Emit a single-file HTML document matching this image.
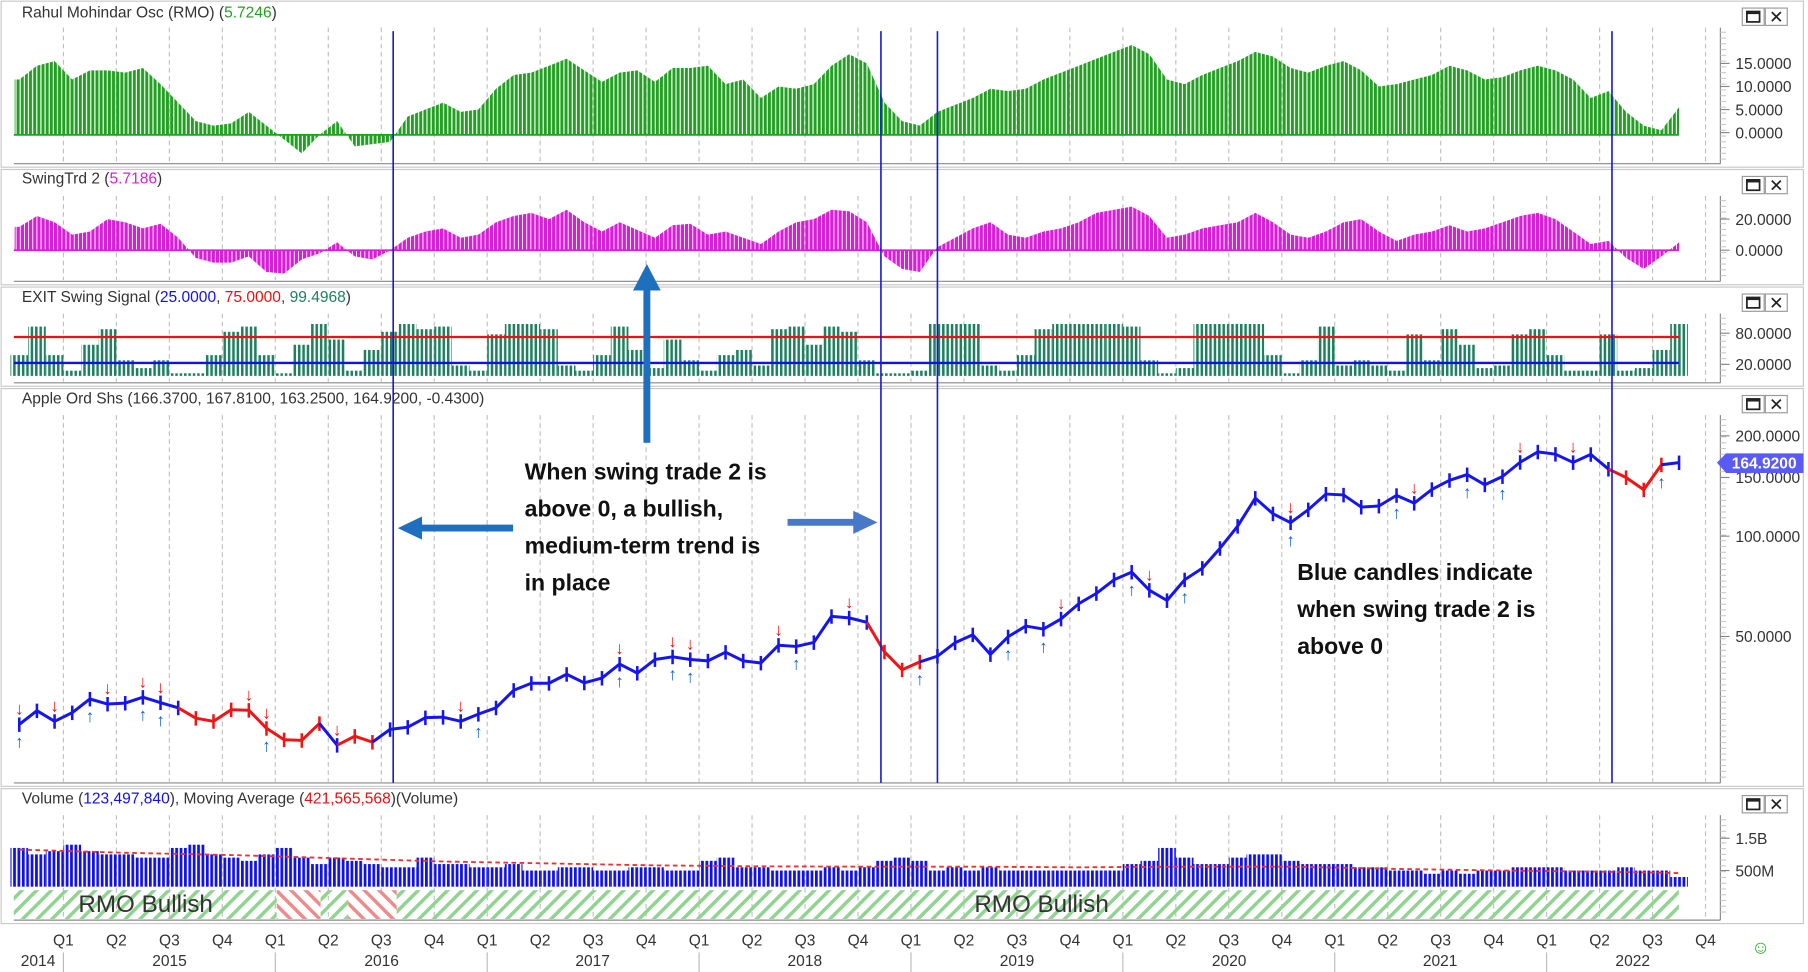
<!DOCTYPE html>
<html><head><meta charset="utf-8"><style>
html,body{margin:0;padding:0;background:#fff;}
svg{display:block;font-family:"Liberation Sans",sans-serif;}
</style></head><body>
<svg id="chart" width="1808" height="972" viewBox="0 0 1568 843" preserveAspectRatio="none" xmlns="http://www.w3.org/2000/svg">
<defs>
<pattern id="stripeG" width="3.6" height="10" patternUnits="userSpaceOnUse"><rect width="2.6" height="10" fill="#22a022"/></pattern>
<pattern id="stripeM" width="3.6" height="10" patternUnits="userSpaceOnUse"><rect width="2.8" height="10" fill="#d81ed8"/></pattern>
<pattern id="stripeT" width="3.8" height="10" patternUnits="userSpaceOnUse"><rect width="2.2" height="10" fill="#1e8060"/></pattern>
<pattern id="stripeB" width="3.8" height="10" patternUnits="userSpaceOnUse"><rect width="2.4" height="10" fill="#1010ee"/></pattern>
<pattern id="hatchG" width="9" height="9" patternUnits="userSpaceOnUse" patternTransform="rotate(45)"><rect width="3" height="9" fill="#8fd48f"/></pattern>
<pattern id="hatchR" width="9" height="9" patternUnits="userSpaceOnUse" patternTransform="rotate(-45)"><rect width="3" height="9" fill="#f08a8a"/></pattern>
</defs>
<g id="static"></g>
<g id="marks"></g>
</svg>
<script>
// ---- data (monthly, Oct 2014 .. Aug 2022) ----
const rmoValues = [12,15,16,12,14,14,13.5,14.5,11,7,3,2,2.5,5,2,-1,-4,0,3,-2.5,-2,-1.5,4,5.5,7,5,5.5,10,13,13.5,15,16.5,14,11.5,13.5,14,11.5,14.5,14.5,15,11,12,8,10.5,10,11,15,17.5,15.5,7,3,2,5,6.5,8,10,9.5,10,12,13.5,15,16.5,18,19.5,17.5,12,11,13,14.5,16,18,17,14.5,13.5,15,16,14,10.5,11,12,13,15,14,12,12.5,14,15,14,12,8,9.5,5,2,1,6];
const swingValues = [15,22,18,10,12,20,18,14,17,8,-5,-8,-8,-4,-14,-15,-6,-2,5,-4,-6,0,8,12,14,8,10,18,22,24,20,26,18,12,18,13,8,16,17,10,12,8,4,12,18,20,26,25,18,-4,-12,-14,2,8,14,18,10,8,12,14,18,24,26,28,22,8,10,14,16,18,24,18,10,8,12,18,20,12,6,10,12,16,12,14,18,22,24,20,12,4,6,-5,-12,-4,5];
const exitValues = [40,95,40,10,60,90,30,15,30,5,5,40,85,95,40,5,60,100,70,10,50,85,100,90,95,20,10,80,100,100,90,20,10,40,95,50,15,70,30,10,40,50,20,90,95,60,95,85,30,5,5,10,100,100,100,20,10,40,90,100,100,100,100,95,30,5,15,100,100,100,100,40,5,30,95,20,30,20,10,80,30,90,60,15,20,80,90,40,10,10,80,10,15,50,100];
const closeValues = [27,29.7,27.6,29.3,32.2,31.1,31.3,32.6,31.4,30.3,28.2,27.6,29.9,29.8,26.3,24.3,24.2,27.2,23.4,24.9,23.9,26.1,26.5,28.3,28.4,27.6,29.0,30.3,34.2,35.9,35.9,38.2,36.0,37.2,41.0,38.5,42.3,43.1,42.3,41.9,44.5,41.9,41.3,46.7,46.3,47.6,57.0,56.4,54.7,44.6,39.4,41.6,43.3,47.5,50.2,43.8,49.5,53.3,52.2,56.0,62.2,66.8,73.4,77.4,68.3,63.6,73.4,79.5,91.2,106.3,129.0,115.8,108.9,119.1,132.7,131.9,121.3,122.2,131.5,124.6,137.0,145.9,151.8,141.5,149.8,165.3,177.6,174.8,165.1,174.6,157.7,148.8,136.7,162.5,164.92];
const volumeValues = [1.2,1.0,1.1,1.3,1.1,1.0,1.0,0.9,0.9,1.2,1.3,1.0,0.9,0.8,1.0,1.2,0.9,0.7,0.9,0.8,0.7,0.6,0.6,0.9,0.7,0.7,0.6,0.6,0.7,0.5,0.5,0.6,0.6,0.5,0.5,0.6,0.6,0.5,0.5,0.8,0.9,0.6,0.6,0.5,0.5,0.5,0.6,0.5,0.6,0.8,0.9,0.8,0.5,0.6,0.5,0.6,0.5,0.5,0.5,0.5,0.5,0.5,0.5,0.7,0.8,1.2,0.9,0.7,0.7,0.9,1.0,1.0,0.8,0.7,0.7,0.7,0.6,0.6,0.5,0.5,0.4,0.5,0.4,0.5,0.5,0.6,0.6,0.6,0.5,0.5,0.5,0.6,0.5,0.5,0.3];
const maMonths = [0,6,12,18,24,30,36,42,48,54,60,66,72,78,84,90,94];
const maValues = [1.15,1.05,0.98,0.88,0.78,0.72,0.66,0.63,0.62,0.62,0.60,0.62,0.62,0.55,0.5,0.46,0.42];
const downArrows = [0,2,5,7,8,13,14,18,25,34,37,38,43,47,59,64,72,79,85,88];
const upArrows = [0,4,7,8,14,26,34,37,38,44,51,56,58,63,66,72,78,82,84,93];
const rmoTicks = [15,10,5,0];
const swingTicks = [20,0];
const exitTicks = [80,20];
const priceTicks = [200,150,100,50];
const volTicks = [[1.5,'1.5B'],[0.5,'500M']];
const quarterLabels = ['Q1','Q2','Q3','Q4'];
const yearLabels = [['2014',33],['2015',147],['2016',331],['2017',514],['2018',698],['2019',882],['2020',1066],['2021',1249],['2022',1416]];

// ---- scales ----
const NS='http://www.w3.org/2000/svg';
const xm = m => 55 + 45.94*((m-2.5)/3);
const xq = i => 55 + 45.94*i;
const yRmo = v => 117 - 4*v;
const ySw = v => 217 - 1.35*v;
const yEx = v => 326 - 0.45*v;
const yPr = p => 464 - 289*Math.log10(p/100);
const yVol = v => 769 - 28*v;
const st = document.getElementById('static');
const mk = document.getElementById('marks');
function el(parent,tag,attrs,text){const e=document.createElementNS(NS,tag);for(const k in attrs)e.setAttribute(k,attrs[k]);if(text!==undefined)e.textContent=text;parent.appendChild(e);return e;}

const panels=[[0,144,11],[146,246,155],[248,334,258],[336,681,346],[683,800,693]];
panels.forEach((p,i)=>{
  const g=el(st,'g',{});
  
  
  el(g,'rect',{x:1,y:p[0]+1,width:1563,height:p[1]-p[0],fill:'#fff',stroke:'#c8c8c8'});
  for(let q=0;q<32;q++){el(g,'line',{x1:xq(q),x2:xq(q),y1:p[0]+24,y2:p[1]-3,stroke:'#c0c0c0','stroke-dasharray':'4,3'});}
  el(g,'line',{x1:1492,x2:1492,y1:p[0]+24,y2:p[1]-2,stroke:'#888'});
  el(g,'line',{x1:12,x2:1492,y1:p[1]-2,y2:p[1]-2,stroke:'#888'});
  for(let y=p[0]+28;y<p[1]-4;y+=5){el(g,'line',{x1:1492,x2:1497,y1:y,y2:y,stroke:'#ccc'});}
  const b=el(g,'g',{});
  
  
  el(b,'rect',{x:1511,y:p[0]+7,width:19,height:15,fill:'#fff',stroke:'#999'});
  el(b,'rect',{x:1515,y:p[0]+10,width:11,height:9,fill:'none',stroke:'#222','stroke-width':1.5});
  el(b,'line',{x1:1515,x2:1526,y1:p[0]+11,y2:p[0]+11,stroke:'#222','stroke-width':2.5});
  el(b,'rect',{x:1531,y:p[0]+7,width:19,height:15,fill:'#fff',stroke:'#999'});
  el(b,'text',{x:1540.5,y:p[0]+20,'font-size':15,'text-anchor':'middle',fill:'#222'},'✕');
});
function title(y,parts,name){const t=el(st,'text',{x:19,y:y+4,'font-size':13.5,fill:'#333'});parts.forEach(p=>el(t,'tspan',{fill:p[1]},p[0]));}
title(11,[['Rahul Mohindar Osc (RMO) (','#333'],['5.7246','#22a022'],[')','#333']],'rmo-title');
title(155,[['SwingTrd 2 (','#333'],['5.7186','#d81ed8'],[')','#333']],'swingtrd-title');
title(258,[['EXIT Swing Signal (','#333'],['25.0000','#1010ee'],[', ','#333'],['75.0000','#e81010'],[', ','#333'],['99.4968','#1e8060'],[')','#333']],'exit-title');
title(346,[['Apple Ord Shs (166.3700, 167.8100, 163.2500, 164.9200, -0.4300)','#333']],'price-title');
title(693,[['Volume (','#333'],['123,497,840','#1010ee'],['), Moving Average (','#333'],['421,565,568','#e81010'],[')(Volume)','#333']],'volume-title');
function tick(y,label,name){const t=el(st,'text',{x:1505,y:y+5,'font-size':13.5,fill:'#333'},label);el(st,'line',{x1:1492,x2:1500,y1:y,y2:y,stroke:'#888'});}
rmoTicks.forEach(v=>tick(yRmo(v)-2,v.toFixed(4),'rmo-y-tick'));
swingTicks.forEach(v=>tick(ySw(v),v.toFixed(4),'swing-y-tick'));
exitTicks.forEach(v=>tick(yEx(v)-1,v.toFixed(4),'exit-y-tick'));
priceTicks.forEach(v=>tick(yPr(v)+1,v.toFixed(4),'price-y-tick'));
volTicks.forEach(v=>tick(yVol(v[0]),v[1],'volume-y-tick'));
for(let q=0;q<32;q++){const t=el(st,'text',{x:xq(q),y:820,'font-size':13.5,fill:'#333','text-anchor':'middle'},quarterLabels[q%4]);
  if(q%4===0)el(st,'line',{x1:xq(q),x2:xq(q),y1:826,y2:843,stroke:'#bbb'});}
yearLabels.forEach(y=>{const t=el(st,'text',{x:y[1],y:838,'font-size':13.5,fill:'#333','text-anchor':'middle'},y[0]);});
const sm=el(st,'text',{x:1527,y:827,'font-size':16,fill:'#22b022','text-anchor':'middle'},'☺');

// ---- marks ----
const W=15.31;
function area(vals,ys,base,fill,name){
  let d='M'+(xm(0)-4)+','+base+' L'+(xm(0)-4)+','+ys(vals[0]);
  vals.forEach((v,i)=>{d+=' L'+xm(i)+','+ys(v);});
  d+=' L'+xm(vals.length-1)+','+base+' Z';
  const p=el(mk,'path',{d:d,fill:fill});
  
  
}
area(rmoValues,yRmo,yRmo(0),'url(#stripeG)','rmo-area');
el(mk,'line',{x1:12,x2:1456,y1:yRmo(0),y2:yRmo(0),stroke:'#22a022','stroke-width':1.5});
area(swingValues,ySw,ySw(0),'url(#stripeM)','swing-area');
el(mk,'line',{x1:12,x2:1456,y1:ySw(0),y2:ySw(0),stroke:'#d81ed8','stroke-width':1.5});
exitValues.forEach((v,i)=>{
  const r=el(mk,'rect',{x:xm(i)-W/2,y:yEx(v),width:W,height:yEx(0)-yEx(v),fill:'url(#stripeT)'});
  
  
});
el(mk,'line',{x1:12,x2:1456,y1:yEx(75),y2:yEx(75),stroke:'#f01010','stroke-width':2});
el(mk,'line',{x1:12,x2:1456,y1:yEx(25),y2:yEx(25),stroke:'#1010ee','stroke-width':2});
closeValues.forEach((c,i)=>{
  const col=swingValues[i]>=0?'#1515f0':'#f01515';
  if(i>0){const s=el(mk,'line',{x1:xm(i-1),y1:yPr(closeValues[i-1]),x2:xm(i),y2:yPr(c),stroke:col,'stroke-width':2.6});
    
    }
  const b=el(mk,'line',{x1:xm(i),x2:xm(i),y1:yPr(c*1.05),y2:yPr(c*0.95),stroke:col,'stroke-width':2.2});
  
  
});
downArrows.forEach(i=>{const a=el(mk,'text',{x:xm(i),y:yPr(closeValues[i]*1.07),'font-size':15,'font-weight':'bold',fill:'#f01010','text-anchor':'middle'},'↓');});
upArrows.forEach(i=>{const a=el(mk,'text',{x:xm(i),y:yPr(closeValues[i]*0.93)+11,'font-size':15,'font-weight':'bold',fill:'#1060d0','text-anchor':'middle'},'↑');});
const lp=el(mk,'g',{});
const ly=yPr(closeValues[closeValues.length-1]);
el(lp,'path',{d:`M1489,${ly} L1497,${ly-8} L1564,${ly-8} L1564,${ly+9} L1497,${ly+9} Z`,fill:'#5a5af5'});
el(lp,'text',{x:1530,y:ly+5,'font-size':13.5,'font-weight':'bold',fill:'#fff','text-anchor':'middle'},'164.9200');
volumeValues.forEach((v,i)=>{
  const r=el(mk,'rect',{x:xm(i)-W/2,y:yVol(v),width:W,height:yVol(0)-yVol(v),fill:'url(#stripeB)'});
  
  
});
const maPath=el(mk,'polyline',{points:maMonths.map((m,i)=>xm(m)+','+yVol(maValues[i])).join(' '),fill:'none',stroke:'#f03030','stroke-width':1.6,'stroke-dasharray':'4,3'});


const hb=el(mk,'g',{});
el(hb,'rect',{x:12,y:772,width:1444,height:25,fill:'url(#hatchG)'});
el(hb,'rect',{x:240,y:772,width:38,height:25,fill:'#fff'});el(hb,'rect',{x:240,y:772,width:38,height:25,fill:'url(#hatchR)'});
el(hb,'rect',{x:302,y:772,width:42,height:25,fill:'#fff'});el(hb,'rect',{x:302,y:772,width:42,height:25,fill:'url(#hatchR)'});
el(hb,'text',{x:68,y:791,'font-size':21,fill:'#333'},'RMO Bullish');
el(hb,'text',{x:845,y:791,'font-size':21,fill:'#333'},'RMO Bullish');
[341,764,813,1398].forEach(x=>{const l=el(mk,'line',{x1:x,x2:x,y1:27,y2:679,stroke:'#1a1ad0','stroke-width':1.4});});
</script>
<svg width="1808" height="972" viewBox="0 0 1568 843" preserveAspectRatio="none" style="position:absolute;left:0;top:0" xmlns="http://www.w3.org/2000/svg">
<g><line x1="561" y1="384" x2="561" y2="248" stroke="#1f6fbf" stroke-width="6"/><polygon points="549,252 573,252 561,229" fill="#1f6fbf"/></g>
<g><line x1="445" y1="458" x2="364" y2="458" stroke="#1f6fbf" stroke-width="6"/><polygon points="366,448 366,468 345,458" fill="#1f6fbf"/></g>
<g><line x1="683" y1="453" x2="742" y2="453" stroke="#4a78c8" stroke-width="6"/><polygon points="740,443 740,463 761,453" fill="#4a78c8"/></g>
<text font-size="20" font-weight="bold" fill="#111" font-family="Liberation Sans, sans-serif"><tspan x="455" y="416">When swing trade 2 is</tspan><tspan x="455" y="448">above 0, a bullish,</tspan><tspan x="455" y="480">medium-term trend is</tspan><tspan x="455" y="512">in place</tspan></text>
<text font-size="20" font-weight="bold" fill="#111" font-family="Liberation Sans, sans-serif"><tspan x="1125" y="503">Blue candles indicate</tspan><tspan x="1125" y="535">when swing trade 2 is</tspan><tspan x="1125" y="567">above 0</tspan></text>
</svg>
</body></html>
